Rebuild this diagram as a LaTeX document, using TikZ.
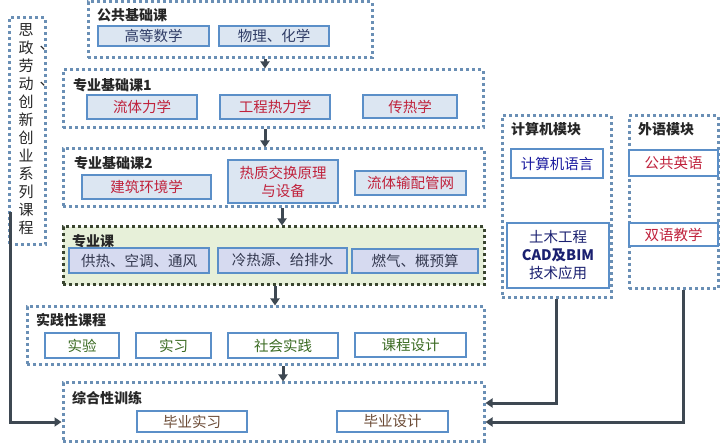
\documentclass[tikz,border=0pt]{standalone}
\usepackage{fontspec}
\setmainfont{Noto Sans CJK SC}
\usetikzlibrary{arrows.meta,calc}
\definecolor{dotc}{HTML}{6A8FB5}
\definecolor{boxc}{HTML}{5B8FC8}
\definecolor{fillb}{HTML}{DCE6F2}
\definecolor{filll}{HTML}{D6DAF0}
\definecolor{zyfill}{HTML}{E7F0D9}
\definecolor{zyline}{HTML}{3A4530}
\definecolor{arrc}{HTML}{3E4852}
\definecolor{tnavy}{HTML}{2F3C66}
\definecolor{tred}{HTML}{C0223C}
\definecolor{tgrey}{HTML}{33384F}
\definecolor{tgreen}{HTML}{3B6B23}
\definecolor{tbrown}{HTML}{6B4A35}
\definecolor{tblue}{HTML}{1C1CA0}
\definecolor{tdnavy}{HTML}{1A2070}
\newcommand\mybox[7]{\node[#1, minimum width={(#5-#3)*1pt}, minimum height={(#6-#4)*1pt}] (#2) at ({(#3+#5)/2},{(#4+#6)/2}) {#7};}
\tikzset{
  group/.style={draw=dotc, line width=3pt, dash pattern=on 3pt off 3pt, inner sep=0pt},
  zygroup/.style={group, draw=zyline, fill=zyfill},
  ibox/.style={draw=boxc, line width=2.8pt, inner sep=0pt, align=center,
    font=\fontsize{14.5}{18}\selectfont},
  bluebox/.style={ibox, fill=fillb},
  lavbox/.style={ibox, fill=filll},
  whitebox/.style={ibox, fill=white},
  title/.style={anchor=west, inner sep=0pt, font=\fontsize{14}{17}\selectfont\bfseries, text=black!85},
  arr/.style={draw=arrc, line width=3pt, -{Triangle[width=9pt,length=7pt]}},
}
\begin{document}
\begin{tikzpicture}[x=1pt,y=-1pt]
\fill[white] (0,0) rectangle (720,443);
\useasboundingbox (0,0) rectangle (720,443);
% groups
\mybox{group}{gg}{88}{2}{372}{58}{}
\mybox{group}{zja}{63}{70}{483}{128}{}
\mybox{group}{zjb}{63}{149}{484}{207}{}
\mybox{zygroup}{zy}{63}{227}{484}{285}{}
\mybox{group}{sj}{27}{307}{484}{365}{}
\mybox{group}{zh}{63}{383}{484}{441}{}
\mybox{group}{lf}{9}{18}{45}{245}{}
\mybox{group}{jsj}{502}{116}{611}{298}{}
\mybox{group}{wy}{629}{116}{718}{289}{}
% left vertical text
\node[inner sep=0pt, align=center, font=\fontsize{15}{18}\selectfont, text=black!85] (lt) at (26,129)
 {思\\政\rlap{\hspace{6pt}\raisebox{4pt}{、}}\\劳\\动\rlap{\hspace{6pt}\raisebox{4pt}{、}}\\创\\新\\创\\业\\系\\列\\课\\程};
% titles
\node[title] (tgg) at (97,15) {公共基础课};
\node[title] (tza) at (73,85) {专业基础课1};
\node[title] (tzb) at (74,163) {专业基础课2};
\node[title] (tzy) at (72,241) {专业课};
\node[title] (tsj) at (36,320) {实践性课程};
\node[title] (tzh) at (72,398) {综合性训练};
\node[title] (tjs) at (511,129) {计算机模块};
\node[title] (twy) at (638,129) {外语模块};
% inner boxes
\mybox{bluebox, text=tnavy}{a1}{98}{26}{209}{46}{高等数学}
\mybox{bluebox, text=tnavy}{a2}{219}{26}{329}{46}{物理、化学}
\mybox{bluebox, text=tred}{b1}{87}{95}{197}{119}{流体力学}
\mybox{bluebox, text=tred}{b2}{220}{95}{330}{119}{工程热力学}
\mybox{bluebox, text=tred}{b3}{363}{95}{457}{118}{传热学}
\mybox{bluebox, text=tred}{c1}{82}{175}{211}{199}{建筑环境学}
\mybox{bluebox, text=tred}{c2}{228}{160}{338}{203}{热质交换原理\\与设备}
\mybox{bluebox, text=tred}{c3}{355}{171}{466}{195}{流体输配管网}
\mybox{lavbox, text=tgrey}{d1}{69}{248}{209}{273}{供热、空调、通风}
\mybox{lavbox, text=tgrey}{d2}{218}{248}{347}{273}{冷热源、给排水}
\mybox{lavbox, text=tgrey}{d3}{352}{249}{478}{273}{燃气、概预算}
\mybox{whitebox, text=tgreen}{e1}{45}{333}{119}{358}{实验}
\mybox{whitebox, text=tgreen}{e2}{136}{333}{211}{358}{实习}
\mybox{whitebox, text=tgreen}{e3}{228}{333}{338}{358}{社会实践}
\mybox{whitebox, text=tgreen}{e4}{355}{333}{466}{357}{课程设计}
\mybox{whitebox, text=tbrown}{f1}{137}{411}{247}{432}{毕业实习}
\mybox{whitebox, text=tbrown}{f2}{337}{411}{448}{432}{毕业设计}
\mybox{whitebox, text=tblue}{g1}{511}{149}{603}{178}{计算机语言}
\mybox{whitebox, text=tdnavy}{g2}{507}{223}{609}{288}{土木工程\\{\bfseries CAD及BIM}\\技术应用}
\mybox{whitebox, text=tred}{h1}{629}{150}{718}{176}{公共英语}
\mybox{whitebox, text=tred}{h2}{629}{223}{718}{246}{双语教学}
% arrow helper coordinates
\coordinate (x1) at (265,0);
\coordinate (x2) at (282,0);
\coordinate (x3) at (275,0);
\coordinate (x4) at (283,0);
\coordinate (xw) at (683,0);
\coordinate (xl) at (10,212);
\coordinate (yj) at (0,403);
\coordinate (yw) at (0,422);
% arrows
\draw[arr] (x1 |- gg.south) -- (x1 |- zja.north);
\draw[arr] (x1 |- zja.south) -- (x1 |- zjb.north);
\draw[arr] (x2 |- zjb.south) -- (x2 |- zy.north);
\draw[arr] (x3 |- zy.south) -- (x3 |- sj.north);
\draw[arr] (x4 |- sj.south) -- (x4 |- zh.north);
\draw[arr] (jsj.south) |- (zh.east |- yj);
\draw[arr] (xw |- wy.south) |- (zh.east |- yw);
\draw[arr] (xl) |- (zh.west |- yw);
\end{tikzpicture}
\end{document}
